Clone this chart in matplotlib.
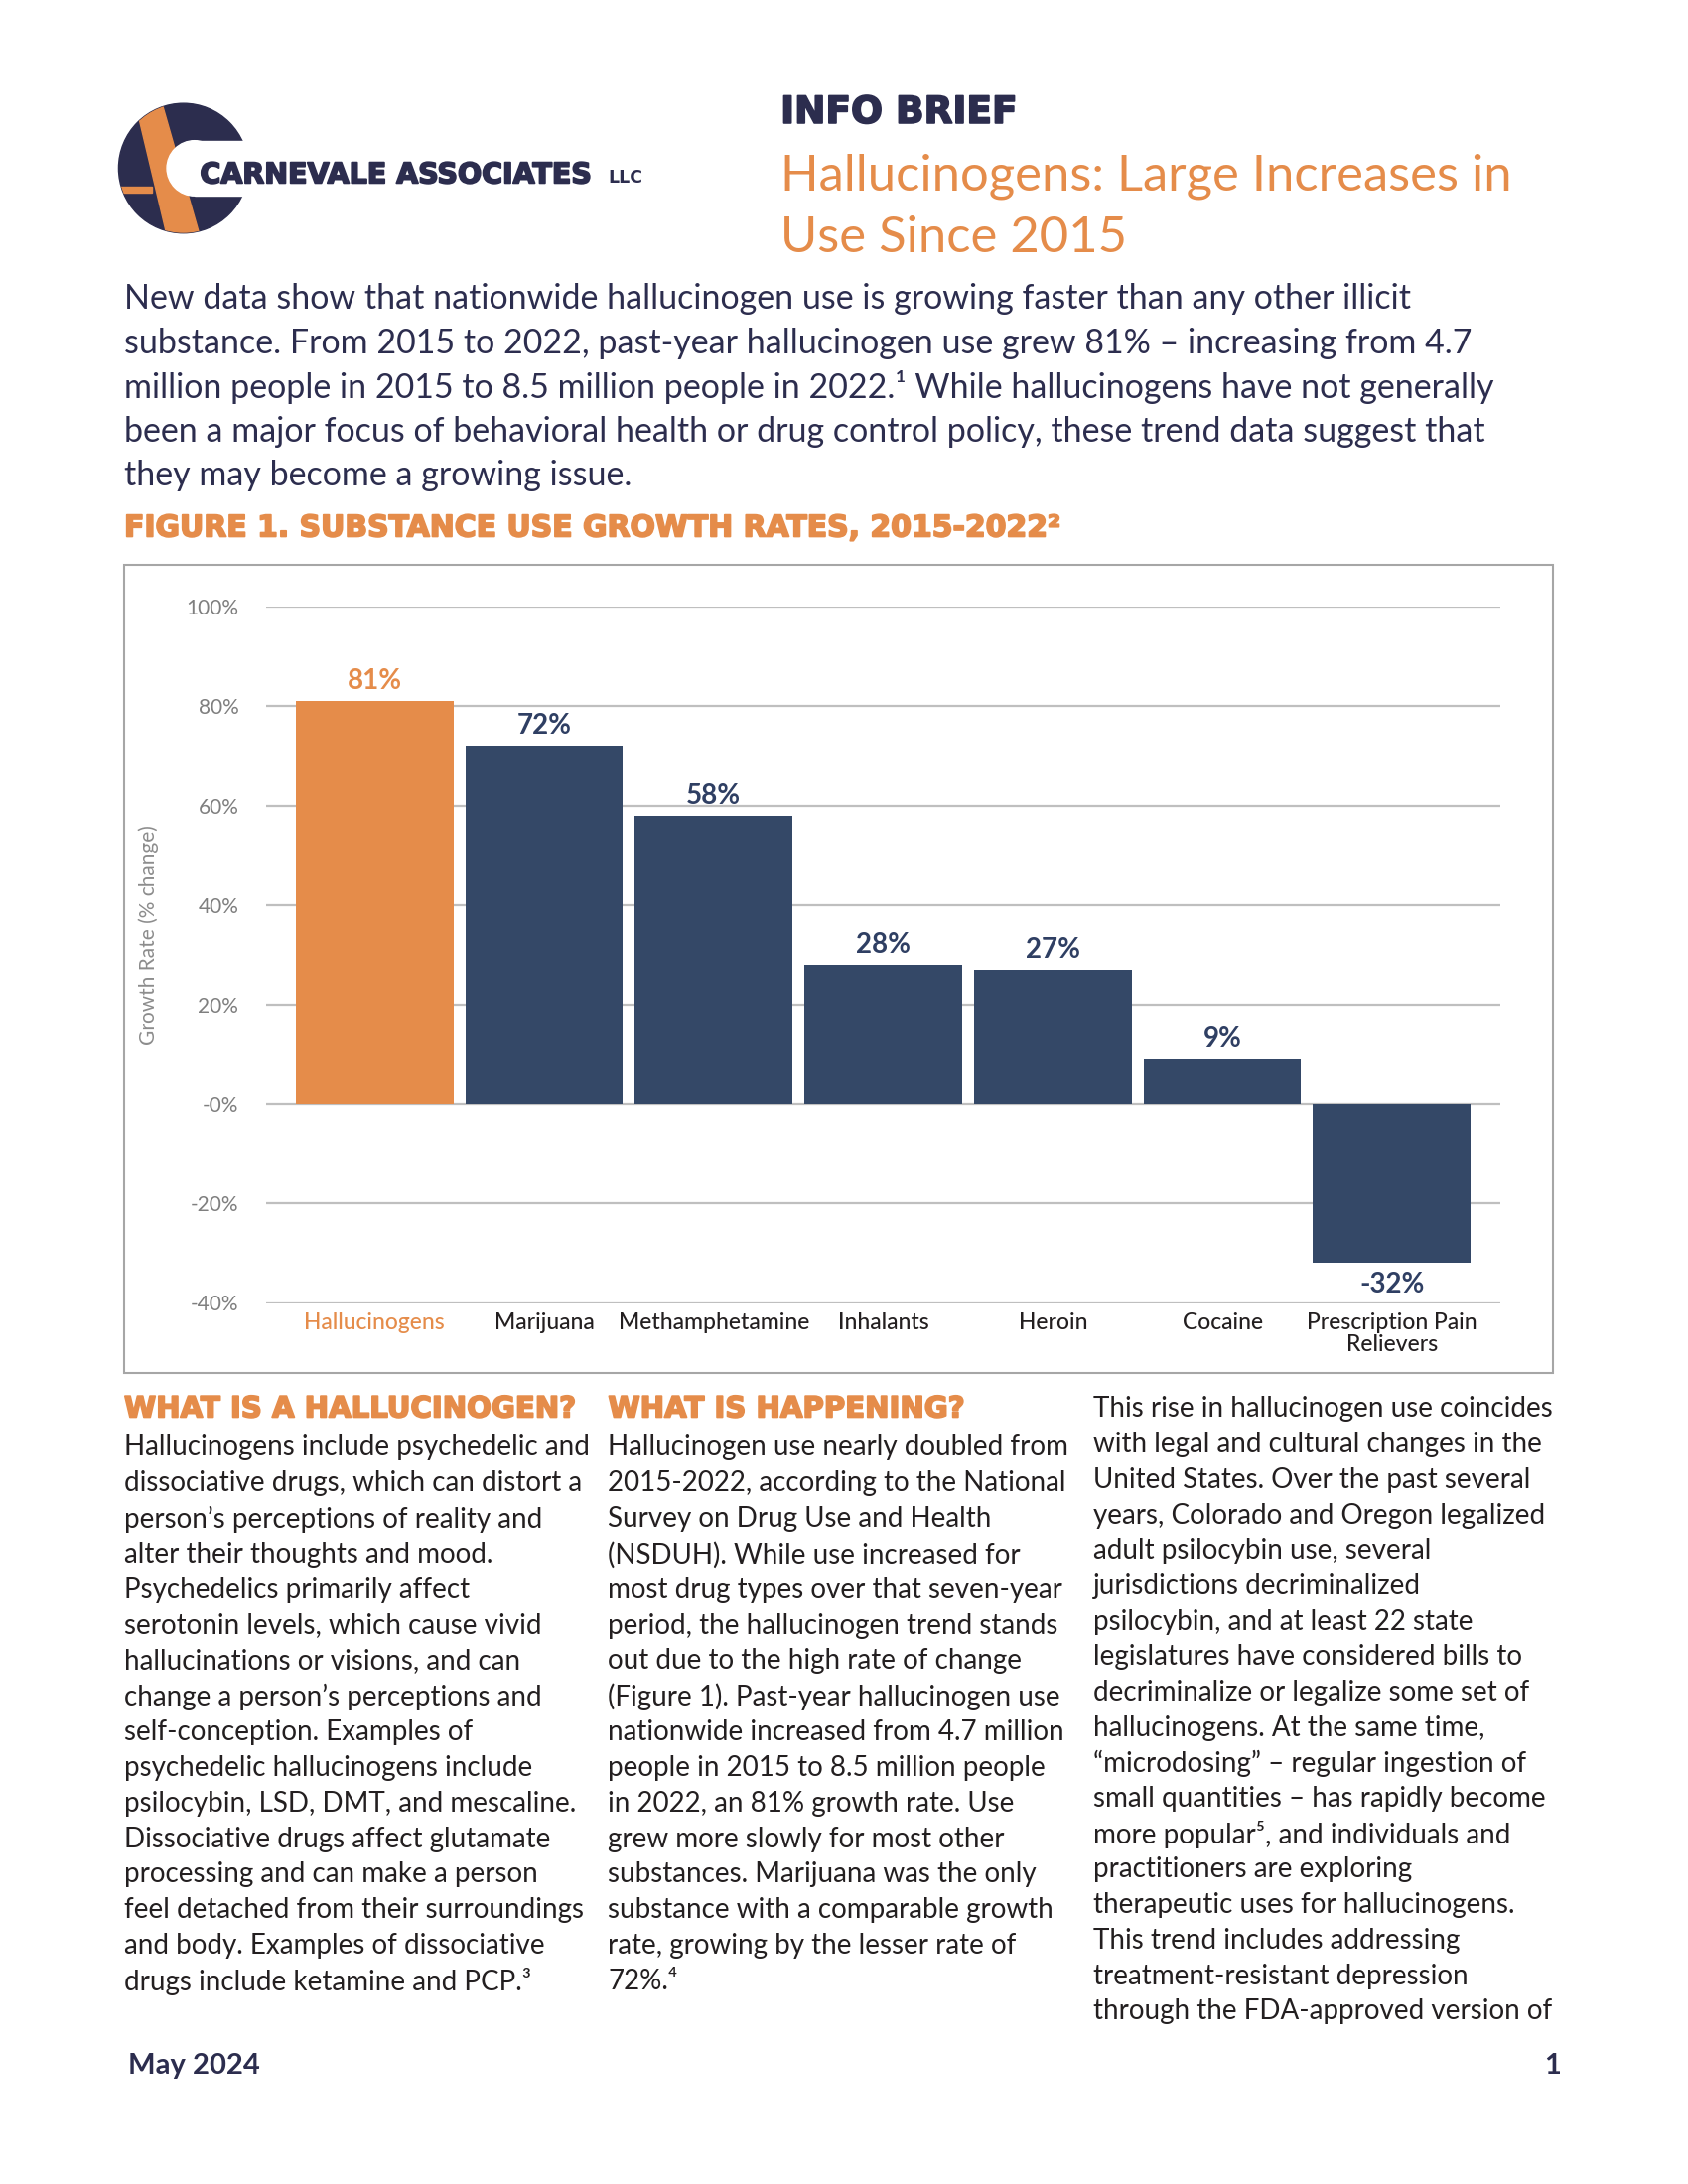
import numpy as np
import matplotlib.pyplot as plt
import matplotlib.patheffects as pe
from matplotlib.patches import Circle, Rectangle, Polygon

# chart data
categories = ['Hallucinogens', 'Marijuana', 'Methamphetamine', 'Inhalants',
              'Heroin', 'Cocaine', 'Prescription Pain\nRelievers']
growth = [81, 72, 58, 28, 27, 9, -32]
yticks = [-40, -20, 0, 20, 40, 60, 80, 100]
ytick_labels = ['-40%', '-20%', '-0%', '20%', '40%', '60%', '80%', '100%']

intro_lines = [
    "New data show that nationwide hallucinogen use is growing faster than any other illicit",
    "substance. From 2015 to 2022, past-year hallucinogen use grew 81% \u2013 increasing from 4.7",
    "million people in 2015 to 8.5 million people in 2022.\u00b9 While hallucinogens have not generally",
    "been a major focus of behavioral health or drug control policy, these trend data suggest that",
    "they may become a growing issue.",
]
col1_lines = [
    "Hallucinogens include psychedelic and",
    "dissociative drugs, which can distort a",
    "person\u2019s perceptions of reality and",
    "alter their thoughts and mood.",
    "Psychedelics primarily affect",
    "serotonin levels, which cause vivid",
    "hallucinations or visions, and can",
    "change a person\u2019s perceptions and",
    "self-conception. Examples of",
    "psychedelic hallucinogens include",
    "psilocybin, LSD, DMT, and mescaline.",
    "Dissociative drugs affect glutamate",
    "processing and can make a person",
    "feel detached from their surroundings",
    "and body. Examples of dissociative",
    "drugs include ketamine and PCP.\u00b3",
]
col2_lines = [
    "Hallucinogen use nearly doubled from",
    "2015-2022, according to the National",
    "Survey on Drug Use and Health",
    "(NSDUH). While use increased for",
    "most drug types over that seven-year",
    "period, the hallucinogen trend stands",
    "out due to the high rate of change",
    "(Figure 1). Past-year hallucinogen use",
    "nationwide increased from 4.7 million",
    "people in 2015 to 8.5 million people",
    "in 2022, an 81% growth rate. Use",
    "grew more slowly for most other",
    "substances. Marijuana was the only",
    "substance with a comparable growth",
    "rate, growing by the lesser rate of",
    "72%.\u2074",
]
col3_lines = [
    "This rise in hallucinogen use coincides",
    "with legal and cultural changes in the",
    "United States. Over the past several",
    "years, Colorado and Oregon legalized",
    "adult psilocybin use, several",
    "jurisdictions decriminalized",
    "psilocybin, and at least 22 state",
    "legislatures have considered bills to",
    "decriminalize or legalize some set of",
    "hallucinogens. At the same time,",
    "\u201cmicrodosing\u201d \u2013 regular ingestion of",
    "small quantities \u2013 has rapidly become",
    "more popular\u2075, and individuals and",
    "practitioners are exploring",
    "therapeutic uses for hallucinogens.",
    "This trend includes addressing",
    "treatment-resistant depression",
    "through the FDA-approved version of",
]

orange = '#e58c4a'
navy = '#2c2d4e'
bar_navy = '#344867'
body = '#231f20'

plt.rcParams['font.family'] = ['Lato', 'DejaVu Sans']

fig = plt.figure(figsize=(17, 22), dpi=100)

# page layer, coordinates in points of a 1224 x 1584 page
page = fig.add_axes([0, 0, 1, 1])
page.set_xlim(0, 1224)
page.set_ylim(1584, 0)
page.axis('off')


def heavy(x, y, s, size, color, **kw):
    # wide heavy display type for headings
    t = page.text(x, y, s, fontsize=size, fontweight='bold', family='DejaVu Sans',
                  color=color, va='center', ha='left', **kw)
    t.set_path_effects([pe.withStroke(linewidth=1.3, foreground=color)])
    return t


# logo
cx, cy, r = 133, 122, 47
clip = Rectangle((60, 60), 118, 130, transform=page.transData)
disc = Circle((cx, cy), r, color=navy)
page.add_patch(disc)
disc.set_clip_path(clip)
band = Polygon([(97, 70), (116, 70), (146, 175), (122, 175)], closed=True, color=orange)
page.add_patch(band)
band.set_clip_path(Circle((cx, cy), r, transform=page.transData))
bar = Rectangle((80, 135), 30, 5, color=orange)
page.add_patch(bar)
bar.set_clip_path(Circle((cx, cy), r, transform=page.transData))
page.add_patch(Circle((141, 122), 20, color='white'))
page.add_patch(Rectangle((141, 102), 40, 40, color='white'))
heavy(145, 127, 'CARNEVALE ASSOCIATES', 20.5, navy)
page.text(441, 129, 'LLC', fontsize=12.5, fontweight='bold', family='DejaVu Sans',
          color=navy, va='center', ha='left')

# header
heavy(566, 82, 'INFO BRIEF', 27, navy)
page.text(566, 128, 'Hallucinogens: Large Increases in', fontsize=36.5,
          color=orange, va='center', ha='left')
page.text(566, 173, 'Use Since 2015', fontsize=36.5, color=orange,
          va='center', ha='left')

for i, line in enumerate(intro_lines):
    page.text(90, 217 + i * 32, line, fontsize=24.5, color=navy,
              va='center', ha='left')

heavy(90, 383, 'FIGURE 1. SUBSTANCE USE GROWTH RATES, 2015-2022\u00b2', 21.5, orange)

# chart frame
page.add_patch(Rectangle((90, 410), 1036, 586, fill=False, edgecolor='#a6a6a6', lw=1.5))
page.text(108, 678, 'Growth Rate (% change)', rotation=90, fontsize=15,
          color='#8c8c8c', va='center', ha='center')

# bar chart
ax = fig.add_axes([193 / 1224, 1 - 945 / 1584, (1088 - 193) / 1224, (945 - 440) / 1584])
x = np.arange(len(categories))
colors = [orange] + [bar_navy] * (len(categories) - 1)
ax.bar(x, growth, width=0.93, color=colors, zorder=3)
ax.set_xlim(-0.64, len(categories) - 1 + 0.64)
ax.set_ylim(-40, 100)
ax.set_yticks(yticks)
ax.set_yticklabels(ytick_labels, fontsize=15, color='#7f7f7f')
ax.yaxis.grid(True, color='#bfbfbf', lw=1.6)
ax.set_axisbelow(True)
for s in ax.spines.values():
    s.set_visible(False)
ax.tick_params(axis='y', length=0, pad=20)
ax.tick_params(axis='x', length=0, pad=7)
ax.set_xticks(x)
ax.set_xticklabels(categories, fontsize=16.5, color=body, fontweight='medium',
                   linespacing=1.05)
ax.get_xticklabels()[0].set_color(orange)
for xi, v, c in zip(x, growth, colors):
    lab_color = orange if c == orange else '#2f3f63'
    if v >= 0:
        ax.annotate(f'{v}%', (xi, v), xytext=(0, 5), textcoords='offset points',
                    ha='center', va='bottom', fontsize=20, fontweight='bold', color=lab_color)
    else:
        ax.annotate(f'{v}%', (xi, v), xytext=(0, -6), textcoords='offset points',
                    ha='center', va='top', fontsize=20, fontweight='bold', color=lab_color)

# lower columns
heavy(90, 1022, 'WHAT IS A HALLUCINOGEN?', 21, orange)
heavy(441, 1022, 'WHAT IS HAPPENING?', 21, orange)
for i, line in enumerate(col1_lines):
    page.text(90, 1050 + i * 25.8, line, fontsize=20, color=body, va='center', ha='left')
for i, line in enumerate(col2_lines):
    page.text(441, 1050 + i * 25.8, line, fontsize=20, color=body, va='center', ha='left')
for i, line in enumerate(col3_lines):
    page.text(793, 1022 + i * 25.7, line, fontsize=20, color=body, va='center', ha='left')

# footer
page.text(93, 1498, 'May 2024', fontsize=21, fontweight='bold', color=navy,
          va='center', ha='left')
page.text(1132, 1498, '1', fontsize=21, fontweight='bold', color=navy,
          va='center', ha='right')

fig.savefig('out.png', dpi=100)
